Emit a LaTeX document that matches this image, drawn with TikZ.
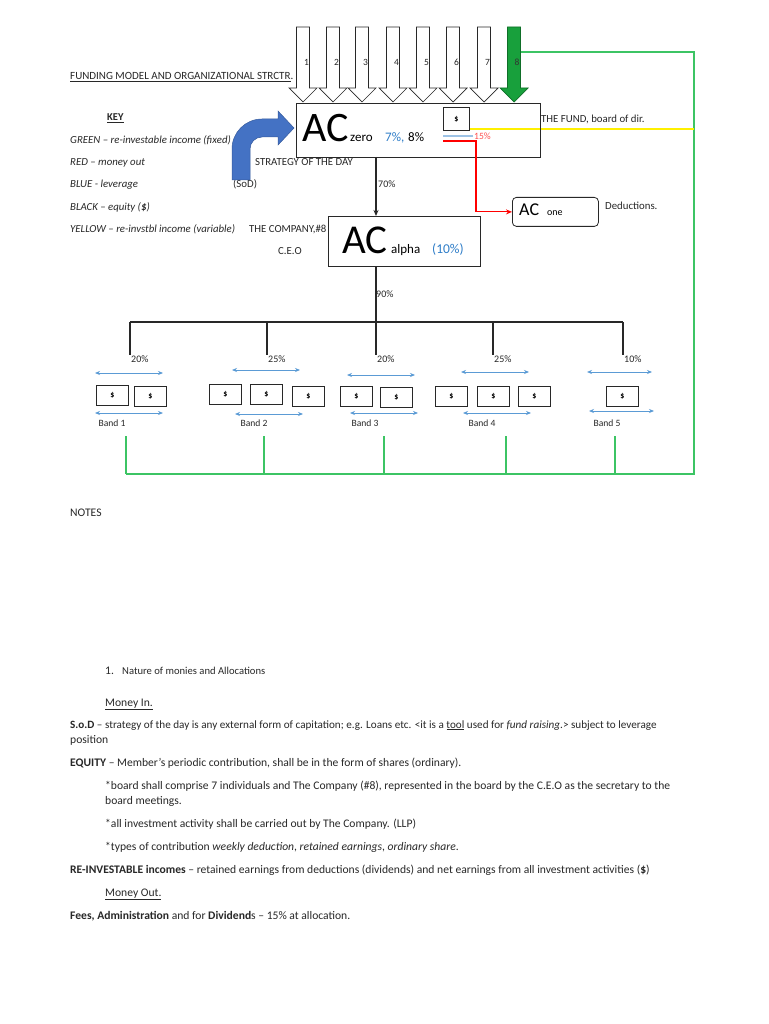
\documentclass[tikz,border=0pt]{standalone}
\usepackage{fontspec}
\setmainfont{Carlito}
\usetikzlibrary{arrows.meta}
\definecolor{greenL}{RGB}{60,196,100}
\definecolor{greenA}{RGB}{24,160,60}
\definecolor{greenD}{RGB}{15,110,40}
\definecolor{blueL}{RGB}{91,155,213}
\definecolor{blueT}{RGB}{46,125,200}
\definecolor{blueA}{RGB}{68,114,196}
\definecolor{blueLine}{RGB}{157,195,230}
\definecolor{redT}{RGB}{255,80,80}
\definecolor{yel}{RGB}{255,240,0}
\definecolor{ink}{RGB}{40,40,40}
\begin{document}
\begin{tikzpicture}[x=1pt,y=-1pt,
  txt/.style={anchor=base west,inner sep=0pt,font=\fontsize{11.6}{13}\selectfont,text=ink},
  keytxt/.style={anchor=base west,inner sep=0pt,font=\fontsize{10.8}{12}\itshape,text=ink},
  lbl/.style={anchor=base west,inner sep=0pt,font=\fontsize{10.8}{12}\selectfont,text=ink},
  sml/.style={anchor=base west,inner sep=0pt,font=\fontsize{10}{11}\selectfont,text=ink},
  bandl/.style={anchor=base,inner sep=0pt,font=\fontsize{9.6}{11}\selectfont,text=ink},
  box/.style={draw=ink,line width=0.8pt,anchor=north west,inner sep=0pt},
  dollar/.style={draw=ink,line width=0.9pt,minimum width=32pt,minimum height=20pt,inner sep=0pt,font=\fontsize{8}{9}\bfseries\selectfont,anchor=north west},
  dbl/.style={draw=blueL,line width=0.8pt,{Stealth[length=5pt,width=4pt]}-{Stealth[length=5pt,width=4pt]}},
  tree/.style={draw=ink,line width=1.2pt},
  gline/.style={draw=greenL,line width=1.3pt},
  darrow/.style={draw=ink,line width=0.7pt,fill=white}]
\useasboundingbox (0,0) rectangle (768,1024);
\fill[white] (0,0) rectangle (768,1024);

% title and key
\node[lbl,font=\fontsize{11}{12}\selectfont] (title) at (70,80) {\underline{FUNDING MODEL AND ORGANIZATIONAL STRCTR}.};
\node[lbl,font=\fontsize{10.5}{12}\bfseries] (key) at (107,121) {\underline{KEY}};
\node[keytxt] (kg) at (70,144) {GREEN – re-investable income (fixed)};
\node[keytxt] (kr) at (70,166) {RED – money out};
\node[keytxt] (kb) at (70,188) {BLUE - leverage};
\node[keytxt] (kk) at (70,211) {BLACK – equity (\textbf{\$})};
\node[keytxt] (ky) at (70,233) {YELLOW – re-invstbl income (variable)};
\node[lbl] (sotd) at (255,166) {STRATEGY OF THE DAY};
\node[lbl] (sod) at (233,188) {(SoD)};
\node[lbl] (comp) at (249,233) {THE COMPANY,\#8};
\node[lbl] (ceo) at (278,254) {C.E.O};

% green loop line
\draw[gline] (514,52) -- (694,52) -- (694,474) -- (126,474);
\foreach \gx in {126,264,384,506,615} \draw[gline] (\gx,436) -- (\gx,474);

% yellow line
\draw[yel,line width=1.5pt] (470,129) -- (694,129);

% down arrows 1..8
\foreach \cx/\n in {303/1,333/2,362/3,393/4,423/5,453/6,484/7} {
  \draw[darrow] (\cx-6.5,27) -- (\cx+6.5,27) -- (\cx+6.5,88) -- (\cx+14,88) -- (\cx,102) -- (\cx-14,88) -- (\cx-6.5,88) -- cycle;
  \node[inner sep=0pt,font=\fontsize{9.5}{10}\selectfont,text=ink] (n\n) at (\cx+3.5,62) {\n};
}
\draw[draw=greenD,line width=0.7pt,fill=greenA] (514-6.5,27) -- (514+6.5,27) -- (514+6.5,88) -- (514+14,88) -- (514,102) -- (514-14,88) -- (514-6.5,88) -- cycle;
\node[inner sep=0pt,font=\fontsize{9.5}{10}\selectfont,text=black!80] (n8) at (517,62) {8};

% blue bent arrow (SoD)
\draw[draw=blueA!80!black,line width=0.5pt,fill=blueA]
  (232,180) -- (232,149) arc[start angle=180,end angle=270,radius=30] -- (278,119) -- (278,111) -- (294,128) -- (278,145) -- (278,137) -- (262,137) arc[start angle=270,end angle=180,radius=12] -- (250,180) -- cycle;

% AC zero box
\node[box,minimum width=244pt,minimum height=54pt] (aczero) at (296,103) {};
\node[anchor=base west,inner sep=0pt,font=\fontsize{42}{44}\selectfont] (aczt) at (302,142) {AC};
\node[anchor=base west,inner sep=0pt,font=\fontsize{13}{14}\selectfont] (zero) at (350,142) {zero};
\node[anchor=base west,inner sep=0pt,font=\fontsize{13}{14}\selectfont,text=blueT] (p7) at (385,142) {7\%,};
\node[anchor=base west,inner sep=0pt,font=\fontsize{13}{14}\selectfont] (p8) at (408,142) {8\%};
\node[box,minimum width=26pt,minimum height=23pt,font=\fontsize{8}{9}\bfseries\selectfont] (fund) at (443,107) {\$};
\node[lbl] (fundt) at (541,123) {THE FUND, board of dir.};
\draw[blueLine,line width=1.2pt] (443,136) -- (473,136);
\node[anchor=base west,inner sep=0pt,font=\fontsize{9.6}{10}\selectfont,text=redT] (p15) at (474,140) {15\%};

% AC one
\node[draw=ink,line width=0.8pt,rounded corners=4pt,minimum width=86pt,minimum height=29pt,anchor=north west,inner sep=0pt] (acone) at (512,197) {};
\node[anchor=base west,inner sep=0pt,font=\fontsize{18}{19}\selectfont] (acot) at (519,216) {AC};
\node[anchor=base west,inner sep=0pt,font=\fontsize{10}{11}\selectfont] (one) at (547,216) {one};
\node[lbl] (ded) at (605,210) {Deductions.};
\coordinate (rs) at (443,141);
\coordinate (rc1) at (476,141);
\draw[red,line width=1.2pt,-{Stealth[length=6pt,width=5pt]}] (rs) -- (rc1) -- (rc1 |- acone.west) -- (acone.west);

% AC alpha box
\node[box,minimum width=152pt,minimum height=50pt] (acalpha) at (328,216) {};
\node[anchor=base west,inner sep=0pt,font=\fontsize{41}{43}\selectfont] (acat) at (342,253) {AC};
\node[anchor=base west,inner sep=0pt,font=\fontsize{13}{14}\selectfont] (alpha) at (391,253) {alpha};
\node[anchor=base west,inner sep=0pt,font=\fontsize{13.5}{14}\selectfont,text=blueT] (p10) at (432,253) {(10\%)};

% 70% connector
\coordinate (z70) at (376,157);
\draw[ink,line width=1.1pt,-{Stealth[length=6pt,width=5pt]}] (z70) -- (z70 |- acalpha.north);
\node[sml] (l70) at (378,188) {70\%};

% tree
\coordinate (a90) at (376,266);
\coordinate (bar) at (376,322);
\draw[tree] (a90) -- (bar);
\node[sml] (l90) at (376,297) {90\%};
\draw[tree] (130,322) -- (623,322);
\foreach \bx/\p/\i in {130/20/1,267/25/2,376/20/3,493/25/4,623/10/5} {
  \draw[tree] (\bx,322) -- (\bx,355);
  \node[sml] (pc\i) at (\bx+1,362) {\p\%};
}

% blue double arrows
\draw[dbl] (95,373) -- (163,373);
\draw[dbl] (232,370) -- (300,370);
\draw[dbl] (347,375) -- (415,375);
\draw[dbl] (461,372) -- (529,372);
\draw[dbl] (587,372) -- (652,372);
\draw[dbl] (95,413) -- (163,413);
\draw[dbl] (235,414) -- (303,414);
\draw[dbl] (350,413) -- (418,413);
\draw[dbl] (463,413) -- (531,413);
\draw[dbl] (589,411) -- (654,411);

% dollar boxes
\node[dollar] (d11) at (96,385) {\$};
\node[dollar] (d12) at (134,386) {\$};
\node[dollar] (d21) at (209,384) {\$};
\node[dollar] (d22) at (250,384) {\$};
\node[dollar] (d23) at (292,386) {\$};
\node[dollar] (d31) at (340,386) {\$};
\node[dollar] (d32) at (380,387) {\$};
\node[dollar] (d41) at (435,386) {\$};
\node[dollar] (d42) at (477,386) {\$};
\node[dollar] (d43) at (518,386) {\$};
\node[dollar] (d51) at (606,386) {\$};

% band labels
\node[bandl] (b1) at (112,426) {Band 1};
\node[bandl] (b2) at (254,426) {Band 2};
\node[bandl] (b3) at (365,426) {Band 3};
\node[bandl] (b4) at (482,426) {Band 4};
\node[bandl] (b5) at (607,426) {Band 5};

% notes
\node[txt] (notes) at (70,516) {NOTES};
\node[txt] (n1num) at (105,674) {1.};
\node[txt,font=\fontsize{10.6}{12}\selectfont] (n1) at (122,674) {Nature of monies and Allocations};
\node[txt] (min) at (105,706) {\underline{Money In.}};
\node[txt,font=\fontsize{11.15}{13}\selectfont] (sod1) at (70,728) {\textbf{S.o.D} – strategy of the day is any external form of capitation; e.g. Loans etc. <it is a \underline{tool} used for \textit{fund raising}.> subject to leverage};
\node[txt] (sod2) at (70,743) {position};
\node[txt] (eq) at (70,766) {\textbf{EQUITY} – Member's periodic contribution, shall be in the form of shares (ordinary).};
\node[txt] (bd1) at (105,789) {*board shall comprise 7 individuals and The Company (\#8), represented in the board by the C.E.O as the secretary to the};
\node[txt] (bd2) at (105,804) {board meetings.};
\node[txt] (inv) at (105,827) {*all investment activity shall be carried out by The Company. (LLP)};
\node[txt] (typ) at (105,850) {*types of contribution \textit{weekly deduction}, \textit{retained earnings}, \textit{ordinary share}.};
\node[txt] (re) at (70,873) {\textbf{RE-INVESTABLE incomes} – retained earnings from deductions (dividends) and net earnings from all investment activities (\textbf{\$})};
\node[txt] (mout) at (105,896) {\underline{Money Out.}};
\node[txt] (fees) at (70,919) {\textbf{Fees, Administration} and for \textbf{Dividend}s – 15\% at allocation.};
\end{tikzpicture}
\end{document}
